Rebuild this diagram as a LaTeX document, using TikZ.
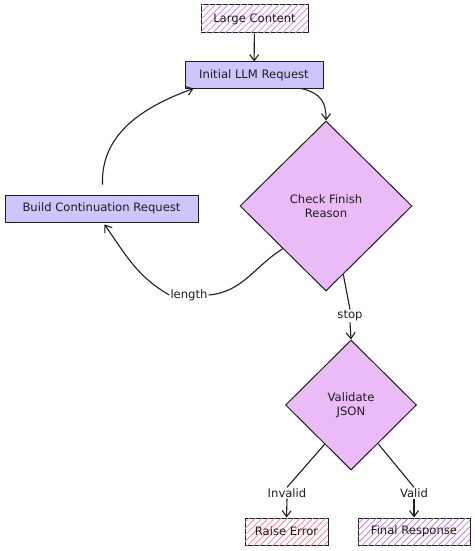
\documentclass[tikz,border=0pt]{standalone}
\usepackage{fontspec}
\setmainfont{DejaVu Sans}
\usetikzlibrary{shapes.geometric,arrows.meta,patterns.meta,calc}
\definecolor{ink}{HTML}{1E1E1E}
\definecolor{lav}{HTML}{CDC5FB}
\definecolor{dia}{HTML}{EABBF7}
\definecolor{hpurp}{HTML}{D28FE6}
\definecolor{hred}{HTML}{EE8C94}
\definecolor{hvio}{HTML}{BE80DC}
\begin{document}
\begin{tikzpicture}[x=1pt,y=-1pt,
  font=\fontsize{11.6}{14}\selectfont, text=ink,
  box/.style={draw=ink,line width=1pt,rectangle,inner sep=0pt,align=center},
  solidbox/.style={box,fill=lav},
  hatchbox/.style={box,fill=white,postaction={pattern={Lines[angle=45,distance=4.5pt,line width=0.8pt]},pattern color=#1}},
  decision/.style={diamond,draw=ink,line width=1pt,fill=dia,inner sep=0pt,align=center},
  lbl/.style={inner sep=1pt,fill=white},
  link/.style={draw=ink,line width=1.1pt},
  arr/.style={link,-{Straight Barb[length=6pt,width=9pt,line width=1.1pt]}}
]
\useasboundingbox (0,0) rectangle (474,551);
\fill[white] (0,0) rectangle (474,551);

\node[hatchbox=hpurp,minimum width=107pt,minimum height=28pt] (lc) at (254.5,19) {Large Content};
\node[solidbox,minimum width=138pt,minimum height=26pt] (init) at (254,75) {Initial LLM Request};
\node[decision,minimum width=172pt,minimum height=170pt] (cfr) at (326,206) {Check Finish\\Reason};
\node[solidbox,minimum width=193pt,minimum height=27pt] (bcr) at (101.5,208.5) {Build Continuation Request};
\node[decision,minimum width=131pt,minimum height=130pt] (vj) at (351,405) {Validate\\JSON};
\node[hatchbox=hred,minimum width=83pt,minimum height=27pt] (re) at (286.5,531.5) {Raise Error};
\node[hatchbox=hvio,minimum width=112pt,minimum height=27pt] (fr) at (414,531.5) {Final Response};

\node[lbl] (llen) at (189,295) {length};
\node[lbl] (lstop) at (350,316) {stop};
\node[lbl] (linv) at (287,493) {Invalid};
\node[lbl] (lval) at (414,493) {Valid};

\coordinate (initout) at ($(init.south east)+(-22,0)$);
\coordinate (initin) at ($(init.south west)+(9,0)$);
\coordinate (cfrll) at ($(cfr.west)!0.5!(cfr.south)$);
\coordinate (cfrlr) at ($(cfr.south)!0.2!(cfr.east)$);
\coordinate (vjll) at ($(vj.west)!0.6!(vj.south)$);
\coordinate (vjlr) at ($(vj.south)!0.41!(vj.east)$);

\draw[arr] (lc) -- (init);
\draw[arr] (initout) .. controls +(20,5) and +(0,-18) .. (cfr.north);
\draw[link] (cfrll) to[out=212,in=5] (llen.east);
\draw[arr] (llen.west) to[out=150,in=-55] ($(bcr.south)+(3,2)$);
\draw[arr] ($(bcr.north)+(1,-10)$) to[out=92,in=200] (initin);
\draw[link] (cfrlr) -- (lstop.north);
\draw[arr] (lstop.south) -- (vj.north);
\draw[link] (vjll) -- (linv.north);
\draw[arr] (linv.south) -- (re.north);
\draw[link] (vjlr) -- (lval.north);
\draw[arr] (lval.south) -- (fr.north);
\end{tikzpicture}
\end{document}
